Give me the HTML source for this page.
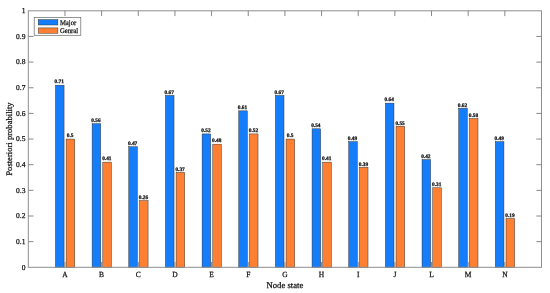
<!DOCTYPE html><html><head><meta charset="utf-8"><title>chart</title><style>html,body{margin:0;padding:0;background:#fff}svg{display:block}text{text-rendering:geometricPrecision;font-family:"Liberation Serif","DejaVu Serif",serif;fill:#111;stroke:#111;stroke-width:0.25px}</style></head><body>
<svg width="550" height="293" viewBox="0 0 550 293">
<rect width="550" height="293" fill="#fff"/>
<rect x="63.76" y="139.05" width="2.40" height="128.25" fill="#f5f5f5"/>
<rect x="55.46" y="85.19" width="8.6" height="182.11" fill="#167dfa" stroke="#2a2a2a" stroke-width="0.45"/>
<text x="59.26" y="83.49" font-size="5.35" font-weight="bold" stroke="none" fill="#222" text-anchor="middle">0.71</text>
<rect x="66.16" y="139.05" width="8.6" height="128.25" fill="#ff8032" stroke="#2a2a2a" stroke-width="0.45"/>
<text x="70.16" y="137.35" font-size="5.35" font-weight="bold" stroke="none" fill="#222" text-anchor="middle">0.5</text>
<rect x="100.41" y="162.14" width="2.40" height="105.16" fill="#f5f5f5"/>
<rect x="92.11" y="123.66" width="8.6" height="143.64" fill="#167dfa" stroke="#2a2a2a" stroke-width="0.45"/>
<text x="95.91" y="121.96" font-size="5.35" font-weight="bold" stroke="none" fill="#222" text-anchor="middle">0.56</text>
<rect x="102.81" y="162.14" width="8.6" height="105.16" fill="#ff8032" stroke="#2a2a2a" stroke-width="0.45"/>
<text x="106.81" y="160.44" font-size="5.35" font-weight="bold" stroke="none" fill="#222" text-anchor="middle">0.41</text>
<rect x="137.07" y="200.61" width="2.40" height="66.69" fill="#f5f5f5"/>
<rect x="128.77" y="146.75" width="8.6" height="120.56" fill="#167dfa" stroke="#2a2a2a" stroke-width="0.45"/>
<text x="132.57" y="145.05" font-size="5.35" font-weight="bold" stroke="none" fill="#222" text-anchor="middle">0.47</text>
<rect x="139.47" y="200.61" width="8.6" height="66.69" fill="#ff8032" stroke="#2a2a2a" stroke-width="0.45"/>
<text x="143.47" y="198.91" font-size="5.35" font-weight="bold" stroke="none" fill="#222" text-anchor="middle">0.26</text>
<rect x="173.73" y="172.40" width="2.40" height="94.91" fill="#f5f5f5"/>
<rect x="165.43" y="95.44" width="8.6" height="171.86" fill="#167dfa" stroke="#2a2a2a" stroke-width="0.45"/>
<text x="169.23" y="93.74" font-size="5.35" font-weight="bold" stroke="none" fill="#222" text-anchor="middle">0.67</text>
<rect x="176.13" y="172.40" width="8.6" height="94.91" fill="#ff8032" stroke="#2a2a2a" stroke-width="0.45"/>
<text x="180.13" y="170.70" font-size="5.35" font-weight="bold" stroke="none" fill="#222" text-anchor="middle">0.37</text>
<rect x="210.39" y="144.18" width="2.40" height="123.12" fill="#f5f5f5"/>
<rect x="202.09" y="133.92" width="8.6" height="133.38" fill="#167dfa" stroke="#2a2a2a" stroke-width="0.45"/>
<text x="205.89" y="132.22" font-size="5.35" font-weight="bold" stroke="none" fill="#222" text-anchor="middle">0.52</text>
<rect x="212.79" y="144.18" width="8.6" height="123.12" fill="#ff8032" stroke="#2a2a2a" stroke-width="0.45"/>
<text x="216.79" y="142.48" font-size="5.35" font-weight="bold" stroke="none" fill="#222" text-anchor="middle">0.48</text>
<rect x="247.04" y="133.92" width="2.40" height="133.38" fill="#f5f5f5"/>
<rect x="238.74" y="110.84" width="8.6" height="156.47" fill="#167dfa" stroke="#2a2a2a" stroke-width="0.45"/>
<text x="242.54" y="109.14" font-size="5.35" font-weight="bold" stroke="none" fill="#222" text-anchor="middle">0.61</text>
<rect x="249.44" y="133.92" width="8.6" height="133.38" fill="#ff8032" stroke="#2a2a2a" stroke-width="0.45"/>
<text x="253.44" y="132.22" font-size="5.35" font-weight="bold" stroke="none" fill="#222" text-anchor="middle">0.52</text>
<rect x="283.70" y="139.05" width="2.40" height="128.25" fill="#f5f5f5"/>
<rect x="275.40" y="95.44" width="8.6" height="171.86" fill="#167dfa" stroke="#2a2a2a" stroke-width="0.45"/>
<text x="279.20" y="93.74" font-size="5.35" font-weight="bold" stroke="none" fill="#222" text-anchor="middle">0.67</text>
<rect x="286.10" y="139.05" width="8.6" height="128.25" fill="#ff8032" stroke="#2a2a2a" stroke-width="0.45"/>
<text x="290.10" y="137.35" font-size="5.35" font-weight="bold" stroke="none" fill="#222" text-anchor="middle">0.5</text>
<rect x="320.36" y="162.14" width="2.40" height="105.16" fill="#f5f5f5"/>
<rect x="312.06" y="128.79" width="8.6" height="138.51" fill="#167dfa" stroke="#2a2a2a" stroke-width="0.45"/>
<text x="315.86" y="127.09" font-size="5.35" font-weight="bold" stroke="none" fill="#222" text-anchor="middle">0.54</text>
<rect x="322.76" y="162.14" width="8.6" height="105.16" fill="#ff8032" stroke="#2a2a2a" stroke-width="0.45"/>
<text x="326.76" y="160.44" font-size="5.35" font-weight="bold" stroke="none" fill="#222" text-anchor="middle">0.41</text>
<rect x="357.01" y="167.27" width="2.40" height="100.03" fill="#f5f5f5"/>
<rect x="348.71" y="141.62" width="8.6" height="125.69" fill="#167dfa" stroke="#2a2a2a" stroke-width="0.45"/>
<text x="352.51" y="139.92" font-size="5.35" font-weight="bold" stroke="none" fill="#222" text-anchor="middle">0.49</text>
<rect x="359.41" y="167.27" width="8.6" height="100.03" fill="#ff8032" stroke="#2a2a2a" stroke-width="0.45"/>
<text x="363.41" y="165.57" font-size="5.35" font-weight="bold" stroke="none" fill="#222" text-anchor="middle">0.39</text>
<rect x="393.67" y="126.22" width="2.40" height="141.08" fill="#f5f5f5"/>
<rect x="385.37" y="103.14" width="8.6" height="164.16" fill="#167dfa" stroke="#2a2a2a" stroke-width="0.45"/>
<text x="389.17" y="101.44" font-size="5.35" font-weight="bold" stroke="none" fill="#222" text-anchor="middle">0.64</text>
<rect x="396.07" y="126.22" width="8.6" height="141.08" fill="#ff8032" stroke="#2a2a2a" stroke-width="0.45"/>
<text x="400.07" y="124.52" font-size="5.35" font-weight="bold" stroke="none" fill="#222" text-anchor="middle">0.55</text>
<rect x="430.33" y="187.79" width="2.40" height="79.52" fill="#f5f5f5"/>
<rect x="422.03" y="159.57" width="8.6" height="107.73" fill="#167dfa" stroke="#2a2a2a" stroke-width="0.45"/>
<text x="425.83" y="157.87" font-size="5.35" font-weight="bold" stroke="none" fill="#222" text-anchor="middle">0.42</text>
<rect x="432.73" y="187.79" width="8.6" height="79.51" fill="#ff8032" stroke="#2a2a2a" stroke-width="0.45"/>
<text x="436.73" y="186.09" font-size="5.35" font-weight="bold" stroke="none" fill="#222" text-anchor="middle">0.31</text>
<rect x="466.99" y="118.53" width="2.40" height="148.77" fill="#f5f5f5"/>
<rect x="458.69" y="108.27" width="8.6" height="159.03" fill="#167dfa" stroke="#2a2a2a" stroke-width="0.45"/>
<text x="462.49" y="106.57" font-size="5.35" font-weight="bold" stroke="none" fill="#222" text-anchor="middle">0.62</text>
<rect x="469.39" y="118.53" width="8.6" height="148.77" fill="#ff8032" stroke="#2a2a2a" stroke-width="0.45"/>
<text x="473.39" y="116.83" font-size="5.35" font-weight="bold" stroke="none" fill="#222" text-anchor="middle">0.58</text>
<rect x="503.64" y="218.56" width="2.40" height="48.73" fill="#f5f5f5"/>
<rect x="495.34" y="141.62" width="8.6" height="125.69" fill="#167dfa" stroke="#2a2a2a" stroke-width="0.45"/>
<text x="499.14" y="139.92" font-size="5.35" font-weight="bold" stroke="none" fill="#222" text-anchor="middle">0.49</text>
<rect x="506.04" y="218.56" width="8.6" height="48.74" fill="#ff8032" stroke="#2a2a2a" stroke-width="0.45"/>
<text x="510.04" y="216.87" font-size="5.35" font-weight="bold" stroke="none" fill="#222" text-anchor="middle">0.19</text>
<rect x="28.3" y="10.8" width="513.20" height="256.50" fill="none" stroke="#8e8e8e" stroke-width="1"/>
<path d="M64.96 267.3v-5.3M64.96 10.8v5.3M101.61 267.3v-5.3M101.61 10.8v5.3M138.27 267.3v-5.3M138.27 10.8v5.3M174.93 267.3v-5.3M174.93 10.8v5.3M211.59 267.3v-5.3M211.59 10.8v5.3M248.24 267.3v-5.3M248.24 10.8v5.3M284.90 267.3v-5.3M284.90 10.8v5.3M321.56 267.3v-5.3M321.56 10.8v5.3M358.21 267.3v-5.3M358.21 10.8v5.3M394.87 267.3v-5.3M394.87 10.8v5.3M431.53 267.3v-5.3M431.53 10.8v5.3M468.19 267.3v-5.3M468.19 10.8v5.3M504.84 267.3v-5.3M504.84 10.8v5.3M28.3 241.65h5.2M541.5 241.65h-5.2M28.3 216.00h5.2M541.5 216.00h-5.2M28.3 190.35h5.2M541.5 190.35h-5.2M28.3 164.70h5.2M541.5 164.70h-5.2M28.3 139.05h5.2M541.5 139.05h-5.2M28.3 113.40h5.2M541.5 113.40h-5.2M28.3 87.75h5.2M541.5 87.75h-5.2M28.3 62.10h5.2M541.5 62.10h-5.2M28.3 36.45h5.2M541.5 36.45h-5.2" stroke="#7a7a7a" stroke-width="0.9" fill="none"/>
<text x="25.4" y="269.60" font-size="7.5" text-anchor="end">0</text>
<text x="25.4" y="243.95" font-size="7.5" text-anchor="end">0.1</text>
<text x="25.4" y="218.30" font-size="7.5" text-anchor="end">0.2</text>
<text x="25.4" y="192.65" font-size="7.5" text-anchor="end">0.3</text>
<text x="25.4" y="167.00" font-size="7.5" text-anchor="end">0.4</text>
<text x="25.4" y="141.35" font-size="7.5" text-anchor="end">0.5</text>
<text x="25.4" y="115.70" font-size="7.5" text-anchor="end">0.6</text>
<text x="25.4" y="90.05" font-size="7.5" text-anchor="end">0.7</text>
<text x="25.4" y="64.40" font-size="7.5" text-anchor="end">0.8</text>
<text x="25.4" y="38.75" font-size="7.5" text-anchor="end">0.9</text>
<text x="25.4" y="13.10" font-size="7.5" text-anchor="end">1</text>
<text transform="translate(64.96 277.3) scale(0.95 1)" font-size="7.9" text-anchor="middle">A</text>
<text transform="translate(101.61 277.3) scale(0.95 1)" font-size="7.9" text-anchor="middle">B</text>
<text transform="translate(138.27 277.3) scale(0.95 1)" font-size="7.9" text-anchor="middle">C</text>
<text transform="translate(174.93 277.3) scale(0.95 1)" font-size="7.9" text-anchor="middle">D</text>
<text transform="translate(211.59 277.3) scale(0.95 1)" font-size="7.9" text-anchor="middle">E</text>
<text transform="translate(248.24 277.3) scale(0.95 1)" font-size="7.9" text-anchor="middle">F</text>
<text transform="translate(284.90 277.3) scale(0.95 1)" font-size="7.9" text-anchor="middle">G</text>
<text transform="translate(321.56 277.3) scale(0.95 1)" font-size="7.9" text-anchor="middle">H</text>
<text transform="translate(358.21 277.3) scale(0.95 1)" font-size="7.9" text-anchor="middle">I</text>
<text transform="translate(394.87 277.3) scale(0.95 1)" font-size="7.9" text-anchor="middle">J</text>
<text transform="translate(431.53 277.3) scale(0.95 1)" font-size="7.9" text-anchor="middle">L</text>
<text transform="translate(468.19 277.3) scale(0.95 1)" font-size="7.9" text-anchor="middle">M</text>
<text transform="translate(504.84 277.3) scale(0.95 1)" font-size="7.9" text-anchor="middle">N</text>
<text x="284.90" y="288.1" font-size="8.65" text-anchor="middle">Node state</text>
<text transform="translate(11.9 139.05) rotate(-90)" font-size="8.6" text-anchor="middle">Posteriori probability</text>
<rect x="34.2" y="17.4" width="46.6" height="17.9" fill="#fff" stroke="#666" stroke-width="0.7"/>
<rect x="38.3" y="19.6" width="19.6" height="5.4" fill="#167dfa" stroke="#2a2a2a" stroke-width="0.45"/>
<rect x="38.3" y="27.9" width="19.6" height="5.4" fill="#ff8032" stroke="#2a2a2a" stroke-width="0.45"/>
<text transform="translate(59.9 24.6) scale(0.93 1)" font-size="7.2">Major</text>
<text transform="translate(59.9 32.6) scale(0.93 1)" font-size="7.2">Genral</text>
</svg></body></html>
